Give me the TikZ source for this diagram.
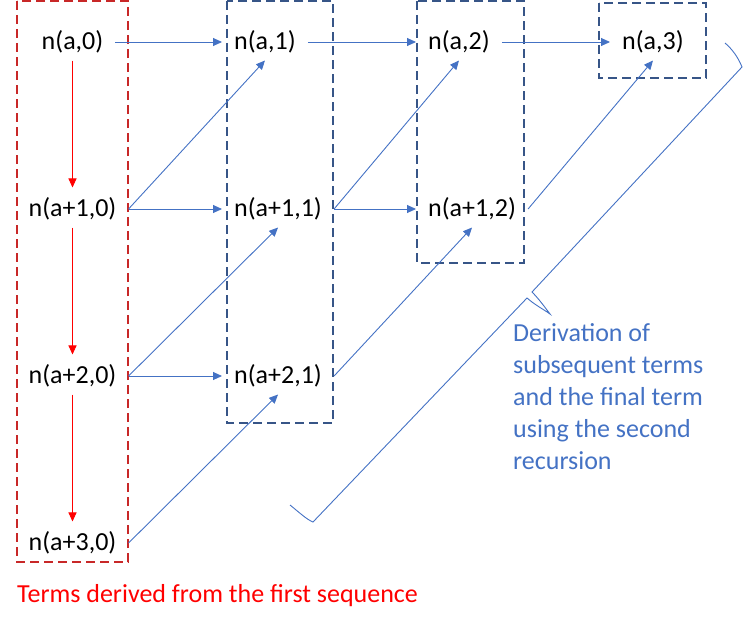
\documentclass[tikz,border=0pt]{standalone}
\usepackage{fontspec}
\setmainfont{Carlito}
\usetikzlibrary{arrows.meta, positioning}
\definecolor{recblue}{RGB}{68, 114, 196}
\definecolor{recred}{RGB}{255, 0, 0}
\definecolor{boxred}{RGB}{200, 40, 40}
\definecolor{boxblue}{RGB}{55, 85, 135}
\tikzset{
  term/.style={inner xsep=12pt, inner ysep=7pt, font=\fontsize{26}{32}\selectfont},
  arrow/.style={-{Triangle[length=9pt, width=8pt]}, line width=0.9pt, color=recblue},
  rarrow/.style={-{Triangle[length=9pt, width=8pt]}, line width=0.9pt, color=recred,
                 shorten >=3pt},
  redgroup/.style={draw=boxred, line width=1.8pt, dash pattern=on 9pt off 5pt},
  bluegroup/.style={draw=boxblue, line width=1.8pt, dash pattern=on 9pt off 5pt},
  note/.style={font=\fontsize{26}{32}\selectfont, align=left, inner sep=0pt,
               anchor=base west},
}

\begin{document}
\begin{tikzpicture}[x=1pt, y=-1pt]
        \useasboundingbox (0,0) rectangle (743,626);

        % First sequence
        \foreach \k/\lab/\y in {0/a/42, 1/a+1/209, 2/a+2/376, 3/a+3/543}
          \node[term] (n\k0) at (72.5,\y) {n(\lab,0)};

        % Second recursion
        \foreach \k/\lab/\y in {0/a/42, 1/a+1/209, 2/a+2/376}
          \node[term, anchor=west] (n\k1) at (222,\y) {n(\lab,1)};
        \foreach \k/\lab/\y in {0/a/42, 1/a+1/209}
          \node[term, anchor=west] (n\k2) at (416,\y) {n(\lab,2)};
        \node[term, anchor=west] (n03) at (610,42) {n(a,3)};

        % Groups
        \draw[redgroup] (17,1) rectangle (128,562);
        \draw[bluegroup] (227,1) rectangle (333,423);
        \draw[bluegroup] (417,1) rectangle (524,263);
        \draw[bluegroup] (599,3) rectangle (706,78);

        % Arrows
        \foreach \a/\b in {0/1, 1/2, 2/3}
          \draw[rarrow] (n\a0.south) -- (n\b0.north);
        \foreach \a/\b in {00/01, 10/11, 20/21, 01/02, 11/12, 02/03}
          \draw[arrow] (n\a.east) -- (n\b.west);
        \foreach \a/\b in {10/01, 20/11, 30/21, 11/02, 21/12, 12/03}
          \draw[arrow] (n\a.east) -- (n\b.south);

        % Brace
        \draw[recblue, line width=0.9pt] (290,505) .. controls (300,513) and (306,519) .. (313,522)
             -- (527,298) .. controls (535,305) and (543,309) .. (550,314)
             .. controls (544,306) and (538,298) .. (532,292)
             -- (742,67) .. controls (738,57) and (732,49) .. (725,43);

        % Notes (base is the last line)
        \node[note, text=recblue] (derive) at (513,469)
             {Derivation of\\subsequent terms\\and the final term\\using the second\\recursion};
        \node[note, text=recred] (caption) at (17,602) {Terms derived from the first sequence};
      \end{tikzpicture}
\end{document}
